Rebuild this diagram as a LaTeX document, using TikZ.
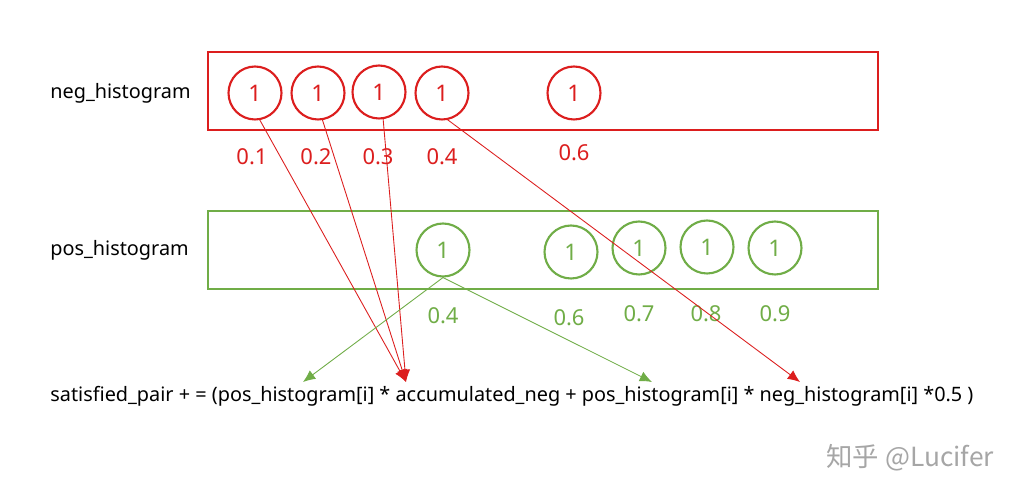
\documentclass[tikz,border=0pt]{standalone}
\usepackage{fontspec}
\usetikzlibrary{arrows.meta}
\setmainfont{Noto Sans}
\newfontfamily\cjk{Noto Sans CJK SC}
\definecolor{rd}{RGB}{220,30,30}
\definecolor{gn}{RGB}{112,173,71}
\begin{document}
\begin{tikzpicture}[x=0.02cm,y=-0.02cm,
 nc/.style={circle,draw=rd,line width=1.2pt,minimum size=1.06cm,inner sep=0,text=rd,font=\fontsize{13}{14}\selectfont},
 pc/.style={circle,draw=gn,line width=1.2pt,minimum size=1.06cm,inner sep=0,text=gn,font=\fontsize{13}{14}\selectfont},
 nl/.style={text=rd,font=\fontsize{12.5}{14}\selectfont},
 pl/.style={text=gn,font=\fontsize{12.5}{14}\selectfont},
 ra/.style={draw=rd,line width=0.5pt,-{Latex[length=7pt,width=6pt]}},
 ga/.style={draw=gn,line width=0.5pt,-{Latex[length=7pt,width=6pt]}}]
\useasboundingbox[fill=white] (0,0) rectangle (1027,502);
\draw[rd,line width=1.2pt] (208,52) rectangle (878,130);
\draw[gn,line width=1.2pt] (208,211) rectangle (878,289);
\node[anchor=west,font=\fontsize{11.3}{12}\selectfont,inner sep=0] (nh) at (50,93) {neg\_histogram};
\node[anchor=west,font=\fontsize{11.3}{12}\selectfont,inner sep=0] (ph) at (50,250) {pos\_histogram};
\node[nc] (n1) at (255,93) {1};
\node[nc] (n2) at (318,93) {1};
\node[nc] (n3) at (379,92) {1};
\node[nc] (n4) at (442,93) {1};
\node[nc] (n5) at (574,93) {1};
\node[nl] (l1) at (252,157) {0.1};
\node[nl] (l2) at (316,157) {0.2};
\node[nl] (l3) at (378,157) {0.3};
\node[nl] (l4) at (442,157) {0.4};
\node[nl] (l5) at (574,153) {0.6};
\node[pc] (p1) at (443,250) {1};
\node[pc] (p2) at (571,252) {1};
\node[pc] (p3) at (639,248) {1};
\node[pc] (p4) at (707,247) {1};
\node[pc] (p5) at (775,248) {1};
\node[pl] (m1) at (443,316) {0.4};
\node[pl] (m2) at (569,318) {0.6};
\node[pl] (m3) at (639,314) {0.7};
\node[pl] (m4) at (706,314) {0.8};
\node[pl] (m5) at (775,314) {0.9};
\node[anchor=west,font=\fontsize{11.3}{12}\selectfont,inner sep=0] (f) at (50,396) {satisfied\_pair + = (pos\_histogram[i] * accumulated\_neg + pos\_histogram[i] * neg\_histogram[i] *0.5 )};
\coordinate (t1) at (406,382);
\coordinate (t2) at (800,382);
\coordinate (t3) at (303,382);
\coordinate (t4) at (652,382);
\draw[ra] (n1.south) ++(4,-2) -- (t1);
\draw[ra] (n2.south) ++(4,-2) -- (t1);
\draw[ra] (n3.south) ++(4,-2) -- (t1);
\draw[ra] (n4.south) ++(4,-2) -- (t2);
\draw[ga] (p1.south) -- (t3);
\draw[ga] (p1.south) -- (t4);
\node[anchor=east,text=gray!70,font=\cjk\fontsize{15}{16}\selectfont] (w) at (1000,458) {知乎 @Lucifer};
\end{tikzpicture}
\end{document}
